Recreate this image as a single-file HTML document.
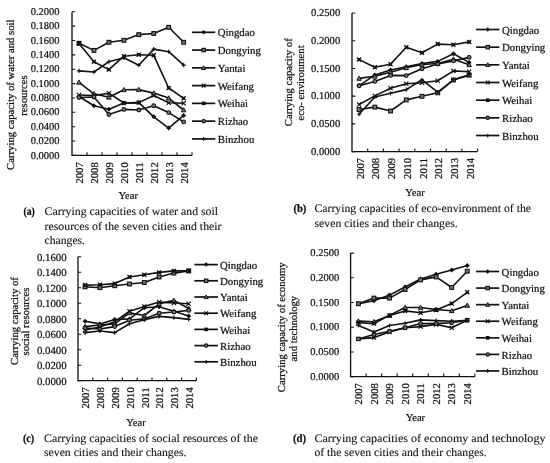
<!DOCTYPE html>
<html><head><meta charset="utf-8"><title>Carrying capacities</title>
<style>
html,body{margin:0;padding:0;background:#fff;}
svg{display:block;}
text{font-family:"Liberation Serif", "Times New Roman", serif;fill:#111;text-rendering:geometricPrecision;stroke:#111;stroke-width:0.22px;}
</style></head>
<body>
<svg width="550" height="463" viewBox="0 0 550 463">
<rect width="550" height="463" fill="#fff"/>
<path d="M72 11.8 L72 155.4 L192 155.4" stroke="#111" stroke-width="1.3" fill="none"/>
<text x="59.60" y="158.50" font-size="10.5" text-anchor="end">0.0000</text>
<text x="59.60" y="144.14" font-size="10.5" text-anchor="end">0.0200</text>
<text x="59.60" y="129.78" font-size="10.5" text-anchor="end">0.0400</text>
<text x="59.60" y="115.42" font-size="10.5" text-anchor="end">0.0600</text>
<text x="59.60" y="101.06" font-size="10.5" text-anchor="end">0.0800</text>
<text x="59.60" y="86.70" font-size="10.5" text-anchor="end">0.1000</text>
<text x="59.60" y="72.34" font-size="10.5" text-anchor="end">0.1200</text>
<text x="59.60" y="57.98" font-size="10.5" text-anchor="end">0.1400</text>
<text x="59.60" y="43.62" font-size="10.5" text-anchor="end">0.1600</text>
<text x="59.60" y="29.26" font-size="10.5" text-anchor="end">0.1800</text>
<text x="59.60" y="14.90" font-size="10.5" text-anchor="end">0.2000</text>
<path d="M72 155.40h3.2 M72 141.04h3.2 M72 126.68h3.2 M72 112.32h3.2 M72 97.96h3.2 M72 83.60h3.2 M72 69.24h3.2 M72 54.88h3.2 M72 40.52h3.2 M72 26.16h3.2 M72 11.80h3.2 M87.00 155.4v-3.2 M102.00 155.4v-3.2 M117.00 155.4v-3.2 M132.00 155.4v-3.2 M147.00 155.4v-3.2 M162.00 155.4v-3.2 M177.00 155.4v-3.2 M192.00 155.4v-3.2" stroke="#111" stroke-width="1.1" fill="none"/>
<text x="82.90" y="162.30" font-size="10.6" text-anchor="end" transform="rotate(-90 82.90 162.30)">2007</text>
<text x="97.85" y="162.30" font-size="10.6" text-anchor="end" transform="rotate(-90 97.85 162.30)">2008</text>
<text x="112.80" y="162.30" font-size="10.6" text-anchor="end" transform="rotate(-90 112.80 162.30)">2009</text>
<text x="127.75" y="162.30" font-size="10.6" text-anchor="end" transform="rotate(-90 127.75 162.30)">2010</text>
<text x="142.70" y="162.30" font-size="10.6" text-anchor="end" transform="rotate(-90 142.70 162.30)">2011</text>
<text x="157.65" y="162.30" font-size="10.6" text-anchor="end" transform="rotate(-90 157.65 162.30)">2012</text>
<text x="172.60" y="162.30" font-size="10.6" text-anchor="end" transform="rotate(-90 172.60 162.30)">2013</text>
<text x="187.55" y="162.30" font-size="10.6" text-anchor="end" transform="rotate(-90 187.55 162.30)">2014</text>
<text x="128.30" y="199.00" font-size="10.6" text-anchor="middle">Year</text>
<polyline points="79.00,96.50 93.95,105.80 108.90,109.30 123.85,103.00 138.80,102.60 153.75,116.80 168.70,128.10 183.65,115.40" stroke="#111" stroke-width="1.6" fill="none" stroke-linejoin="round"/>
<polyline points="79.00,43.30 93.95,50.40 108.90,42.30 123.85,40.30 138.80,34.60 153.75,33.50 168.70,27.30 183.65,42.30" stroke="#111" stroke-width="1.6" fill="none" stroke-linejoin="round"/>
<polyline points="79.00,82.30 93.95,93.80 108.90,97.30 123.85,89.80 138.80,89.60 153.75,93.10 168.70,98.10 183.65,110.00" stroke="#111" stroke-width="1.6" fill="none" stroke-linejoin="round"/>
<polyline points="79.00,95.00 93.95,95.50 108.90,93.20 123.85,103.00 138.80,102.60 153.75,95.50 168.70,102.80 183.65,103.20" stroke="#111" stroke-width="1.6" fill="none" stroke-linejoin="round"/>
<polyline points="79.00,43.50 93.95,61.70 108.90,69.60 123.85,56.20 138.80,54.70 153.75,55.30 168.70,88.00 183.65,98.30" stroke="#111" stroke-width="1.6" fill="none" stroke-linejoin="round"/>
<polyline points="79.00,97.50 93.95,97.00 108.90,114.50 123.85,109.40 138.80,110.00 153.75,105.70 168.70,112.60 183.65,121.90" stroke="#111" stroke-width="1.6" fill="none" stroke-linejoin="round"/>
<polyline points="79.00,70.90 93.95,72.00 108.90,61.70 123.85,57.80 138.80,65.20 153.75,49.10 168.70,51.70 183.65,65.10" stroke="#111" stroke-width="1.6" fill="none" stroke-linejoin="round"/>
<path d="M79.00 94.00L81.50 96.50L79.00 99.00L76.50 96.50Z" fill="#111"/>
<path d="M93.95 103.30L96.45 105.80L93.95 108.30L91.45 105.80Z" fill="#111"/>
<path d="M108.90 106.80L111.40 109.30L108.90 111.80L106.40 109.30Z" fill="#111"/>
<path d="M123.85 100.50L126.35 103.00L123.85 105.50L121.35 103.00Z" fill="#111"/>
<path d="M138.80 100.10L141.30 102.60L138.80 105.10L136.30 102.60Z" fill="#111"/>
<path d="M153.75 114.30L156.25 116.80L153.75 119.30L151.25 116.80Z" fill="#111"/>
<path d="M168.70 125.60L171.20 128.10L168.70 130.60L166.20 128.10Z" fill="#111"/>
<path d="M183.65 112.90L186.15 115.40L183.65 117.90L181.15 115.40Z" fill="#111"/>
<rect x="77.10" y="41.40" width="3.80" height="3.80" fill="#777" stroke="#111" stroke-width="1.1"/>
<rect x="92.05" y="48.50" width="3.80" height="3.80" fill="#777" stroke="#111" stroke-width="1.1"/>
<rect x="107.00" y="40.40" width="3.80" height="3.80" fill="#777" stroke="#111" stroke-width="1.1"/>
<rect x="121.95" y="38.40" width="3.80" height="3.80" fill="#777" stroke="#111" stroke-width="1.1"/>
<rect x="136.90" y="32.70" width="3.80" height="3.80" fill="#777" stroke="#111" stroke-width="1.1"/>
<rect x="151.85" y="31.60" width="3.80" height="3.80" fill="#777" stroke="#111" stroke-width="1.1"/>
<rect x="166.80" y="25.40" width="3.80" height="3.80" fill="#777" stroke="#111" stroke-width="1.1"/>
<rect x="181.75" y="40.40" width="3.80" height="3.80" fill="#777" stroke="#111" stroke-width="1.1"/>
<path d="M79.00 80.00L81.30 84.14L76.70 84.14Z" fill="#777" stroke="#111" stroke-width="1.0"/>
<path d="M93.95 91.50L96.25 95.64L91.65 95.64Z" fill="#777" stroke="#111" stroke-width="1.0"/>
<path d="M108.90 95.00L111.20 99.14L106.60 99.14Z" fill="#777" stroke="#111" stroke-width="1.0"/>
<path d="M123.85 87.50L126.15 91.64L121.55 91.64Z" fill="#777" stroke="#111" stroke-width="1.0"/>
<path d="M138.80 87.30L141.10 91.44L136.50 91.44Z" fill="#777" stroke="#111" stroke-width="1.0"/>
<path d="M153.75 90.80L156.05 94.94L151.45 94.94Z" fill="#777" stroke="#111" stroke-width="1.0"/>
<path d="M168.70 95.80L171.00 99.94L166.40 99.94Z" fill="#777" stroke="#111" stroke-width="1.0"/>
<path d="M183.65 107.70L185.95 111.84L181.35 111.84Z" fill="#777" stroke="#111" stroke-width="1.0"/>
<path d="M76.90 92.90L81.10 97.10M81.10 92.90L76.90 97.10" stroke="#111" stroke-width="1.2" fill="none"/>
<path d="M91.85 93.40L96.05 97.60M96.05 93.40L91.85 97.60" stroke="#111" stroke-width="1.2" fill="none"/>
<path d="M106.80 91.10L111.00 95.30M111.00 91.10L106.80 95.30" stroke="#111" stroke-width="1.2" fill="none"/>
<path d="M121.75 100.90L125.95 105.10M125.95 100.90L121.75 105.10" stroke="#111" stroke-width="1.2" fill="none"/>
<path d="M136.70 100.50L140.90 104.70M140.90 100.50L136.70 104.70" stroke="#111" stroke-width="1.2" fill="none"/>
<path d="M151.65 93.40L155.85 97.60M155.85 93.40L151.65 97.60" stroke="#111" stroke-width="1.2" fill="none"/>
<path d="M166.60 100.70L170.80 104.90M170.80 100.70L166.60 104.90" stroke="#111" stroke-width="1.2" fill="none"/>
<path d="M181.55 101.10L185.75 105.30M185.75 101.10L181.55 105.30" stroke="#111" stroke-width="1.2" fill="none"/>
<path d="M76.90 41.40L81.10 45.60M81.10 41.40L76.90 45.60" stroke="#111" stroke-width="1.2" fill="none"/><rect x="77.50" y="42.00" width="3.00" height="3.00" fill="#111"/>
<path d="M91.85 59.60L96.05 63.80M96.05 59.60L91.85 63.80" stroke="#111" stroke-width="1.2" fill="none"/><rect x="92.45" y="60.20" width="3.00" height="3.00" fill="#111"/>
<path d="M106.80 67.50L111.00 71.70M111.00 67.50L106.80 71.70" stroke="#111" stroke-width="1.2" fill="none"/><rect x="107.40" y="68.10" width="3.00" height="3.00" fill="#111"/>
<path d="M121.75 54.10L125.95 58.30M125.95 54.10L121.75 58.30" stroke="#111" stroke-width="1.2" fill="none"/><rect x="122.35" y="54.70" width="3.00" height="3.00" fill="#111"/>
<path d="M136.70 52.60L140.90 56.80M140.90 52.60L136.70 56.80" stroke="#111" stroke-width="1.2" fill="none"/><rect x="137.30" y="53.20" width="3.00" height="3.00" fill="#111"/>
<path d="M151.65 53.20L155.85 57.40M155.85 53.20L151.65 57.40" stroke="#111" stroke-width="1.2" fill="none"/><rect x="152.25" y="53.80" width="3.00" height="3.00" fill="#111"/>
<path d="M166.60 85.90L170.80 90.10M170.80 85.90L166.60 90.10" stroke="#111" stroke-width="1.2" fill="none"/><rect x="167.20" y="86.50" width="3.00" height="3.00" fill="#111"/>
<path d="M181.55 96.20L185.75 100.40M185.75 96.20L181.55 100.40" stroke="#111" stroke-width="1.2" fill="none"/><rect x="182.15" y="96.80" width="3.00" height="3.00" fill="#111"/>
<circle cx="79.00" cy="97.50" r="1.90" fill="#777" stroke="#111" stroke-width="1.1"/>
<circle cx="93.95" cy="97.00" r="1.90" fill="#777" stroke="#111" stroke-width="1.1"/>
<circle cx="108.90" cy="114.50" r="1.90" fill="#777" stroke="#111" stroke-width="1.1"/>
<circle cx="123.85" cy="109.40" r="1.90" fill="#777" stroke="#111" stroke-width="1.1"/>
<circle cx="138.80" cy="110.00" r="1.90" fill="#777" stroke="#111" stroke-width="1.1"/>
<circle cx="153.75" cy="105.70" r="1.90" fill="#777" stroke="#111" stroke-width="1.1"/>
<circle cx="168.70" cy="112.60" r="1.90" fill="#777" stroke="#111" stroke-width="1.1"/>
<circle cx="183.65" cy="121.90" r="1.90" fill="#777" stroke="#111" stroke-width="1.1"/>
<path d="M79.00 68.80L79.00 73.00M76.90 70.90L81.10 70.90" stroke="#111" stroke-width="1.1" fill="none"/>
<path d="M93.95 69.90L93.95 74.10M91.85 72.00L96.05 72.00" stroke="#111" stroke-width="1.1" fill="none"/>
<path d="M108.90 59.60L108.90 63.80M106.80 61.70L111.00 61.70" stroke="#111" stroke-width="1.1" fill="none"/>
<path d="M123.85 55.70L123.85 59.90M121.75 57.80L125.95 57.80" stroke="#111" stroke-width="1.1" fill="none"/>
<path d="M138.80 63.10L138.80 67.30M136.70 65.20L140.90 65.20" stroke="#111" stroke-width="1.1" fill="none"/>
<path d="M153.75 47.00L153.75 51.20M151.65 49.10L155.85 49.10" stroke="#111" stroke-width="1.1" fill="none"/>
<path d="M168.70 49.60L168.70 53.80M166.60 51.70L170.80 51.70" stroke="#111" stroke-width="1.1" fill="none"/>
<path d="M183.65 63.00L183.65 67.20M181.55 65.10L185.75 65.10" stroke="#111" stroke-width="1.1" fill="none"/>
<path d="M192 32.30H215.3" stroke="#111" stroke-width="1.7"/>
<path d="M203.65 30.05L205.90 32.30L203.65 34.55L201.40 32.30Z" fill="#111"/>
<text x="217.70" y="36.40" font-size="10.8" text-anchor="start">Qingdao</text>
<path d="M192 50.07H215.3" stroke="#111" stroke-width="1.7"/>
<rect x="201.94" y="48.36" width="3.42" height="3.42" fill="#777" stroke="#111" stroke-width="1.1"/>
<text x="217.70" y="54.17" font-size="10.8" text-anchor="start">Dongying</text>
<path d="M192 67.84H215.3" stroke="#111" stroke-width="1.7"/>
<path d="M203.65 65.77L205.72 69.50L201.58 69.50Z" fill="#777" stroke="#111" stroke-width="1.0"/>
<text x="217.70" y="71.94" font-size="10.8" text-anchor="start">Yantai</text>
<path d="M192 85.61H215.3" stroke="#111" stroke-width="1.7"/>
<path d="M201.76 83.72L205.54 87.50M205.54 83.72L201.76 87.50" stroke="#111" stroke-width="1.2" fill="none"/>
<text x="217.70" y="89.71" font-size="10.8" text-anchor="start">Weifang</text>
<path d="M192 103.38H215.3" stroke="#111" stroke-width="1.7"/>
<rect x="201.85" y="101.58" width="3.6" height="3.6" fill="#111"/>
<text x="217.70" y="107.48" font-size="10.8" text-anchor="start">Weihai</text>
<path d="M192 121.15H215.3" stroke="#111" stroke-width="1.7"/>
<circle cx="203.65" cy="121.15" r="1.71" fill="#777" stroke="#111" stroke-width="1.1"/>
<text x="217.70" y="125.25" font-size="10.8" text-anchor="start">Rizhao</text>
<path d="M192 138.92H215.3" stroke="#111" stroke-width="1.7"/>
<path d="M203.65 137.03L203.65 140.81M201.76 138.92L205.54 138.92" stroke="#111" stroke-width="1.1" fill="none"/>
<text x="217.70" y="143.02" font-size="10.8" text-anchor="start">Binzhou</text>
<text x="14.30" y="94.70" font-size="10.7" text-anchor="middle" transform="rotate(-90 14.30 94.70)">Carrying capacity of water and soil</text>
<text x="26.80" y="95.50" font-size="10.7" text-anchor="middle" transform="rotate(-90 26.80 95.50)">resources</text>
<path d="M352 13.0 L352 151.6 L477.6 151.6" stroke="#111" stroke-width="1.3" fill="none"/>
<text x="340.20" y="154.70" font-size="10.6" text-anchor="end">0.0000</text>
<text x="340.20" y="126.98" font-size="10.6" text-anchor="end">0.0500</text>
<text x="340.20" y="99.26" font-size="10.6" text-anchor="end">0.1000</text>
<text x="340.20" y="71.54" font-size="10.6" text-anchor="end">0.1500</text>
<text x="340.20" y="43.82" font-size="10.6" text-anchor="end">0.2000</text>
<text x="340.20" y="16.10" font-size="10.6" text-anchor="end">0.2500</text>
<path d="M352 151.60h3.2 M352 123.88h3.2 M352 96.16h3.2 M352 68.44h3.2 M352 40.72h3.2 M352 13.00h3.2 M367.70 151.6v-3.2 M383.40 151.6v-3.2 M399.10 151.6v-3.2 M414.80 151.6v-3.2 M430.50 151.6v-3.2 M446.20 151.6v-3.2 M461.90 151.6v-3.2 M477.60 151.6v-3.2" stroke="#111" stroke-width="1.1" fill="none"/>
<text x="363.70" y="157.90" font-size="10.6" text-anchor="end" transform="rotate(-90 363.70 157.90)">2007</text>
<text x="379.42" y="157.90" font-size="10.6" text-anchor="end" transform="rotate(-90 379.42 157.90)">2008</text>
<text x="395.14" y="157.90" font-size="10.6" text-anchor="end" transform="rotate(-90 395.14 157.90)">2009</text>
<text x="410.86" y="157.90" font-size="10.6" text-anchor="end" transform="rotate(-90 410.86 157.90)">2010</text>
<text x="426.58" y="157.90" font-size="10.6" text-anchor="end" transform="rotate(-90 426.58 157.90)">2011</text>
<text x="442.30" y="157.90" font-size="10.6" text-anchor="end" transform="rotate(-90 442.30 157.90)">2012</text>
<text x="458.02" y="157.90" font-size="10.6" text-anchor="end" transform="rotate(-90 458.02 157.90)">2013</text>
<text x="473.74" y="157.90" font-size="10.6" text-anchor="end" transform="rotate(-90 473.74 157.90)">2014</text>
<text x="415.00" y="195.80" font-size="10.6" text-anchor="middle">Year</text>
<polyline points="359.10,85.80 374.82,74.90 390.54,70.00 406.26,66.70 421.98,63.50 437.70,61.40 453.42,53.80 469.14,62.40" stroke="#111" stroke-width="1.6" fill="none" stroke-linejoin="round"/>
<polyline points="359.10,109.50 374.82,107.10 390.54,111.00 406.26,99.90 421.98,96.30 437.70,92.80 453.42,80.00 469.14,75.20" stroke="#111" stroke-width="1.6" fill="none" stroke-linejoin="round"/>
<polyline points="359.10,78.40 374.82,76.30 390.54,72.20 406.26,67.80 421.98,64.50 437.70,63.50 453.42,59.20 469.14,64.80" stroke="#111" stroke-width="1.6" fill="none" stroke-linejoin="round"/>
<polyline points="359.10,104.50 374.82,95.90 390.54,88.30 406.26,83.80 421.98,82.80 437.70,80.70 453.42,70.90 469.14,71.80" stroke="#111" stroke-width="1.6" fill="none" stroke-linejoin="round"/>
<polyline points="359.10,59.60 374.82,67.30 390.54,64.20 406.26,47.20 421.98,52.80 437.70,44.10 453.42,44.70 469.14,41.90" stroke="#111" stroke-width="1.6" fill="none" stroke-linejoin="round"/>
<polyline points="359.10,85.80 374.82,81.40 390.54,75.40 406.26,75.60 421.98,68.70 437.70,64.00 453.42,60.90 469.14,57.40" stroke="#111" stroke-width="1.6" fill="none" stroke-linejoin="round"/>
<polyline points="359.10,114.20 374.82,97.00 390.54,93.30 406.26,89.60 421.98,79.80 437.70,92.10 453.42,79.80 469.14,74.80" stroke="#111" stroke-width="1.6" fill="none" stroke-linejoin="round"/>
<path d="M359.10 83.30L361.60 85.80L359.10 88.30L356.60 85.80Z" fill="#111"/>
<path d="M374.82 72.40L377.32 74.90L374.82 77.40L372.32 74.90Z" fill="#111"/>
<path d="M390.54 67.50L393.04 70.00L390.54 72.50L388.04 70.00Z" fill="#111"/>
<path d="M406.26 64.20L408.76 66.70L406.26 69.20L403.76 66.70Z" fill="#111"/>
<path d="M421.98 61.00L424.48 63.50L421.98 66.00L419.48 63.50Z" fill="#111"/>
<path d="M437.70 58.90L440.20 61.40L437.70 63.90L435.20 61.40Z" fill="#111"/>
<path d="M453.42 51.30L455.92 53.80L453.42 56.30L450.92 53.80Z" fill="#111"/>
<path d="M469.14 59.90L471.64 62.40L469.14 64.90L466.64 62.40Z" fill="#111"/>
<rect x="357.20" y="107.60" width="3.80" height="3.80" fill="#777" stroke="#111" stroke-width="1.1"/>
<rect x="372.92" y="105.20" width="3.80" height="3.80" fill="#777" stroke="#111" stroke-width="1.1"/>
<rect x="388.64" y="109.10" width="3.80" height="3.80" fill="#777" stroke="#111" stroke-width="1.1"/>
<rect x="404.36" y="98.00" width="3.80" height="3.80" fill="#777" stroke="#111" stroke-width="1.1"/>
<rect x="420.08" y="94.40" width="3.80" height="3.80" fill="#777" stroke="#111" stroke-width="1.1"/>
<rect x="435.80" y="90.90" width="3.80" height="3.80" fill="#777" stroke="#111" stroke-width="1.1"/>
<rect x="451.52" y="78.10" width="3.80" height="3.80" fill="#777" stroke="#111" stroke-width="1.1"/>
<rect x="467.24" y="73.30" width="3.80" height="3.80" fill="#777" stroke="#111" stroke-width="1.1"/>
<path d="M359.10 76.10L361.40 80.24L356.80 80.24Z" fill="#777" stroke="#111" stroke-width="1.0"/>
<path d="M374.82 74.00L377.12 78.14L372.52 78.14Z" fill="#777" stroke="#111" stroke-width="1.0"/>
<path d="M390.54 69.90L392.84 74.04L388.24 74.04Z" fill="#777" stroke="#111" stroke-width="1.0"/>
<path d="M406.26 65.50L408.56 69.64L403.96 69.64Z" fill="#777" stroke="#111" stroke-width="1.0"/>
<path d="M421.98 62.20L424.28 66.34L419.68 66.34Z" fill="#777" stroke="#111" stroke-width="1.0"/>
<path d="M437.70 61.20L440.00 65.34L435.40 65.34Z" fill="#777" stroke="#111" stroke-width="1.0"/>
<path d="M453.42 56.90L455.72 61.04L451.12 61.04Z" fill="#777" stroke="#111" stroke-width="1.0"/>
<path d="M469.14 62.50L471.44 66.64L466.84 66.64Z" fill="#777" stroke="#111" stroke-width="1.0"/>
<path d="M357.00 102.40L361.20 106.60M361.20 102.40L357.00 106.60" stroke="#111" stroke-width="1.2" fill="none"/>
<path d="M372.72 93.80L376.92 98.00M376.92 93.80L372.72 98.00" stroke="#111" stroke-width="1.2" fill="none"/>
<path d="M388.44 86.20L392.64 90.40M392.64 86.20L388.44 90.40" stroke="#111" stroke-width="1.2" fill="none"/>
<path d="M404.16 81.70L408.36 85.90M408.36 81.70L404.16 85.90" stroke="#111" stroke-width="1.2" fill="none"/>
<path d="M419.88 80.70L424.08 84.90M424.08 80.70L419.88 84.90" stroke="#111" stroke-width="1.2" fill="none"/>
<path d="M435.60 78.60L439.80 82.80M439.80 78.60L435.60 82.80" stroke="#111" stroke-width="1.2" fill="none"/>
<path d="M451.32 68.80L455.52 73.00M455.52 68.80L451.32 73.00" stroke="#111" stroke-width="1.2" fill="none"/>
<path d="M467.04 69.70L471.24 73.90M471.24 69.70L467.04 73.90" stroke="#111" stroke-width="1.2" fill="none"/>
<path d="M357.00 57.50L361.20 61.70M361.20 57.50L357.00 61.70" stroke="#111" stroke-width="1.2" fill="none"/><rect x="357.60" y="58.10" width="3.00" height="3.00" fill="#111"/>
<path d="M372.72 65.20L376.92 69.40M376.92 65.20L372.72 69.40" stroke="#111" stroke-width="1.2" fill="none"/><rect x="373.32" y="65.80" width="3.00" height="3.00" fill="#111"/>
<path d="M388.44 62.10L392.64 66.30M392.64 62.10L388.44 66.30" stroke="#111" stroke-width="1.2" fill="none"/><rect x="389.04" y="62.70" width="3.00" height="3.00" fill="#111"/>
<path d="M404.16 45.10L408.36 49.30M408.36 45.10L404.16 49.30" stroke="#111" stroke-width="1.2" fill="none"/><rect x="404.76" y="45.70" width="3.00" height="3.00" fill="#111"/>
<path d="M419.88 50.70L424.08 54.90M424.08 50.70L419.88 54.90" stroke="#111" stroke-width="1.2" fill="none"/><rect x="420.48" y="51.30" width="3.00" height="3.00" fill="#111"/>
<path d="M435.60 42.00L439.80 46.20M439.80 42.00L435.60 46.20" stroke="#111" stroke-width="1.2" fill="none"/><rect x="436.20" y="42.60" width="3.00" height="3.00" fill="#111"/>
<path d="M451.32 42.60L455.52 46.80M455.52 42.60L451.32 46.80" stroke="#111" stroke-width="1.2" fill="none"/><rect x="451.92" y="43.20" width="3.00" height="3.00" fill="#111"/>
<path d="M467.04 39.80L471.24 44.00M471.24 39.80L467.04 44.00" stroke="#111" stroke-width="1.2" fill="none"/><rect x="467.64" y="40.40" width="3.00" height="3.00" fill="#111"/>
<circle cx="359.10" cy="85.80" r="1.90" fill="#777" stroke="#111" stroke-width="1.1"/>
<circle cx="374.82" cy="81.40" r="1.90" fill="#777" stroke="#111" stroke-width="1.1"/>
<circle cx="390.54" cy="75.40" r="1.90" fill="#777" stroke="#111" stroke-width="1.1"/>
<circle cx="406.26" cy="75.60" r="1.90" fill="#777" stroke="#111" stroke-width="1.1"/>
<circle cx="421.98" cy="68.70" r="1.90" fill="#777" stroke="#111" stroke-width="1.1"/>
<circle cx="437.70" cy="64.00" r="1.90" fill="#777" stroke="#111" stroke-width="1.1"/>
<circle cx="453.42" cy="60.90" r="1.90" fill="#777" stroke="#111" stroke-width="1.1"/>
<circle cx="469.14" cy="57.40" r="1.90" fill="#777" stroke="#111" stroke-width="1.1"/>
<path d="M359.10 112.10L359.10 116.30M357.00 114.20L361.20 114.20" stroke="#111" stroke-width="1.1" fill="none"/>
<path d="M374.82 94.90L374.82 99.10M372.72 97.00L376.92 97.00" stroke="#111" stroke-width="1.1" fill="none"/>
<path d="M390.54 91.20L390.54 95.40M388.44 93.30L392.64 93.30" stroke="#111" stroke-width="1.1" fill="none"/>
<path d="M406.26 87.50L406.26 91.70M404.16 89.60L408.36 89.60" stroke="#111" stroke-width="1.1" fill="none"/>
<path d="M421.98 77.70L421.98 81.90M419.88 79.80L424.08 79.80" stroke="#111" stroke-width="1.1" fill="none"/>
<path d="M437.70 90.00L437.70 94.20M435.60 92.10L439.80 92.10" stroke="#111" stroke-width="1.1" fill="none"/>
<path d="M453.42 77.70L453.42 81.90M451.32 79.80L455.52 79.80" stroke="#111" stroke-width="1.1" fill="none"/>
<path d="M469.14 72.70L469.14 76.90M467.04 74.80L471.24 74.80" stroke="#111" stroke-width="1.1" fill="none"/>
<path d="M476.1 29.50H499.4" stroke="#111" stroke-width="1.7"/>
<path d="M487.75 27.25L490.00 29.50L487.75 31.75L485.50 29.50Z" fill="#111"/>
<text x="502.00" y="33.60" font-size="10.8" text-anchor="start">Qingdao</text>
<path d="M476.1 47.17H499.4" stroke="#111" stroke-width="1.7"/>
<rect x="486.04" y="45.46" width="3.42" height="3.42" fill="#777" stroke="#111" stroke-width="1.1"/>
<text x="502.00" y="51.27" font-size="10.8" text-anchor="start">Dongying</text>
<path d="M476.1 64.84H499.4" stroke="#111" stroke-width="1.7"/>
<path d="M487.75 62.77L489.82 66.50L485.68 66.50Z" fill="#777" stroke="#111" stroke-width="1.0"/>
<text x="502.00" y="68.94" font-size="10.8" text-anchor="start">Yantai</text>
<path d="M476.1 82.51H499.4" stroke="#111" stroke-width="1.7"/>
<path d="M485.86 80.62L489.64 84.40M489.64 80.62L485.86 84.40" stroke="#111" stroke-width="1.2" fill="none"/>
<text x="502.00" y="86.61" font-size="10.8" text-anchor="start">Weifang</text>
<path d="M476.1 100.18H499.4" stroke="#111" stroke-width="1.7"/>
<rect x="485.95" y="98.38" width="3.6" height="3.6" fill="#111"/>
<text x="502.00" y="104.28" font-size="10.8" text-anchor="start">Weihai</text>
<path d="M476.1 117.85H499.4" stroke="#111" stroke-width="1.7"/>
<circle cx="487.75" cy="117.85" r="1.71" fill="#777" stroke="#111" stroke-width="1.1"/>
<text x="502.00" y="121.95" font-size="10.8" text-anchor="start">Rizhao</text>
<path d="M476.1 135.52H499.4" stroke="#111" stroke-width="1.7"/>
<path d="M487.75 133.63L487.75 137.41M485.86 135.52L489.64 135.52" stroke="#111" stroke-width="1.1" fill="none"/>
<text x="502.00" y="139.62" font-size="10.8" text-anchor="start">Binzhou</text>
<text x="292.20" y="82.20" font-size="10.7" text-anchor="middle" transform="rotate(-90 292.20 82.20)">Carrying capacity of</text>
<text x="304.20" y="82.90" font-size="10.7" text-anchor="middle" transform="rotate(-90 304.20 82.90)">eco- environment</text>
<path d="M78 256.7 L78 380.7 L196.4 380.7" stroke="#111" stroke-width="1.3" fill="none"/>
<text x="66.60" y="384.50" font-size="10.8" text-anchor="end">0.0000</text>
<text x="66.60" y="369.00" font-size="10.8" text-anchor="end">0.0200</text>
<text x="66.60" y="353.50" font-size="10.8" text-anchor="end">0.0400</text>
<text x="66.60" y="338.00" font-size="10.8" text-anchor="end">0.0600</text>
<text x="66.60" y="322.50" font-size="10.8" text-anchor="end">0.0800</text>
<text x="66.60" y="307.00" font-size="10.8" text-anchor="end">0.1000</text>
<text x="66.60" y="291.50" font-size="10.8" text-anchor="end">0.1200</text>
<text x="66.60" y="276.00" font-size="10.8" text-anchor="end">0.1400</text>
<text x="66.60" y="260.50" font-size="10.8" text-anchor="end">0.1600</text>
<path d="M78 380.70h3.2 M78 365.20h3.2 M78 349.70h3.2 M78 334.20h3.2 M78 318.70h3.2 M78 303.20h3.2 M78 287.70h3.2 M78 272.20h3.2 M78 256.70h3.2 M92.80 380.7v-3.2 M107.60 380.7v-3.2 M122.40 380.7v-3.2 M137.20 380.7v-3.2 M152.00 380.7v-3.2 M166.80 380.7v-3.2 M181.60 380.7v-3.2 M196.40 380.7v-3.2" stroke="#111" stroke-width="1.1" fill="none"/>
<text x="89.40" y="387.30" font-size="10.6" text-anchor="end" transform="rotate(-90 89.40 387.30)">2007</text>
<text x="104.20" y="387.30" font-size="10.6" text-anchor="end" transform="rotate(-90 104.20 387.30)">2008</text>
<text x="119.00" y="387.30" font-size="10.6" text-anchor="end" transform="rotate(-90 119.00 387.30)">2009</text>
<text x="133.80" y="387.30" font-size="10.6" text-anchor="end" transform="rotate(-90 133.80 387.30)">2010</text>
<text x="148.60" y="387.30" font-size="10.6" text-anchor="end" transform="rotate(-90 148.60 387.30)">2011</text>
<text x="163.40" y="387.30" font-size="10.6" text-anchor="end" transform="rotate(-90 163.40 387.30)">2012</text>
<text x="178.20" y="387.30" font-size="10.6" text-anchor="end" transform="rotate(-90 178.20 387.30)">2013</text>
<text x="193.00" y="387.30" font-size="10.6" text-anchor="end" transform="rotate(-90 193.00 387.30)">2014</text>
<text x="136.00" y="425.50" font-size="10.6" text-anchor="middle">Year</text>
<polyline points="85.10,321.20 99.90,323.90 114.70,319.50 129.50,318.90 144.30,307.70 159.10,306.80 173.90,311.20 188.70,315.90" stroke="#111" stroke-width="1.6" fill="none" stroke-linejoin="round"/>
<polyline points="85.10,286.80 99.90,287.70 114.70,285.70 129.50,284.00 144.30,282.50 159.10,277.00 173.90,273.10 188.70,270.90" stroke="#111" stroke-width="1.6" fill="none" stroke-linejoin="round"/>
<polyline points="85.10,326.60 99.90,325.00 114.70,323.90 129.50,312.90 144.30,315.50 159.10,303.80 173.90,300.40 188.70,308.50" stroke="#111" stroke-width="1.6" fill="none" stroke-linejoin="round"/>
<polyline points="85.10,330.00 99.90,327.00 114.70,321.70 129.50,311.20 144.30,306.40 159.10,302.10 173.90,303.00 188.70,303.80" stroke="#111" stroke-width="1.6" fill="none" stroke-linejoin="round"/>
<polyline points="85.10,285.10 99.90,284.70 114.70,283.60 129.50,277.00 144.30,274.80 159.10,272.40 173.90,270.90 188.70,270.90" stroke="#111" stroke-width="1.6" fill="none" stroke-linejoin="round"/>
<polyline points="85.10,328.00 99.90,329.00 114.70,326.60 129.50,320.20 144.30,318.90 159.10,313.30 173.90,312.00 188.70,310.40" stroke="#111" stroke-width="1.6" fill="none" stroke-linejoin="round"/>
<polyline points="85.10,332.60 99.90,331.00 114.70,332.60 129.50,323.70 144.30,319.80 159.10,316.40 173.90,317.60 188.70,319.40" stroke="#111" stroke-width="1.6" fill="none" stroke-linejoin="round"/>
<path d="M85.10 318.70L87.60 321.20L85.10 323.70L82.60 321.20Z" fill="#111"/>
<path d="M99.90 321.40L102.40 323.90L99.90 326.40L97.40 323.90Z" fill="#111"/>
<path d="M114.70 317.00L117.20 319.50L114.70 322.00L112.20 319.50Z" fill="#111"/>
<path d="M129.50 316.40L132.00 318.90L129.50 321.40L127.00 318.90Z" fill="#111"/>
<path d="M144.30 305.20L146.80 307.70L144.30 310.20L141.80 307.70Z" fill="#111"/>
<path d="M159.10 304.30L161.60 306.80L159.10 309.30L156.60 306.80Z" fill="#111"/>
<path d="M173.90 308.70L176.40 311.20L173.90 313.70L171.40 311.20Z" fill="#111"/>
<path d="M188.70 313.40L191.20 315.90L188.70 318.40L186.20 315.90Z" fill="#111"/>
<rect x="83.20" y="284.90" width="3.80" height="3.80" fill="#777" stroke="#111" stroke-width="1.1"/>
<rect x="98.00" y="285.80" width="3.80" height="3.80" fill="#777" stroke="#111" stroke-width="1.1"/>
<rect x="112.80" y="283.80" width="3.80" height="3.80" fill="#777" stroke="#111" stroke-width="1.1"/>
<rect x="127.60" y="282.10" width="3.80" height="3.80" fill="#777" stroke="#111" stroke-width="1.1"/>
<rect x="142.40" y="280.60" width="3.80" height="3.80" fill="#777" stroke="#111" stroke-width="1.1"/>
<rect x="157.20" y="275.10" width="3.80" height="3.80" fill="#777" stroke="#111" stroke-width="1.1"/>
<rect x="172.00" y="271.20" width="3.80" height="3.80" fill="#777" stroke="#111" stroke-width="1.1"/>
<rect x="186.80" y="269.00" width="3.80" height="3.80" fill="#777" stroke="#111" stroke-width="1.1"/>
<path d="M85.10 324.30L87.40 328.44L82.80 328.44Z" fill="#777" stroke="#111" stroke-width="1.0"/>
<path d="M99.90 322.70L102.20 326.84L97.60 326.84Z" fill="#777" stroke="#111" stroke-width="1.0"/>
<path d="M114.70 321.60L117.00 325.74L112.40 325.74Z" fill="#777" stroke="#111" stroke-width="1.0"/>
<path d="M129.50 310.60L131.80 314.74L127.20 314.74Z" fill="#777" stroke="#111" stroke-width="1.0"/>
<path d="M144.30 313.20L146.60 317.34L142.00 317.34Z" fill="#777" stroke="#111" stroke-width="1.0"/>
<path d="M159.10 301.50L161.40 305.64L156.80 305.64Z" fill="#777" stroke="#111" stroke-width="1.0"/>
<path d="M173.90 298.10L176.20 302.24L171.60 302.24Z" fill="#777" stroke="#111" stroke-width="1.0"/>
<path d="M188.70 306.20L191.00 310.34L186.40 310.34Z" fill="#777" stroke="#111" stroke-width="1.0"/>
<path d="M83.00 327.90L87.20 332.10M87.20 327.90L83.00 332.10" stroke="#111" stroke-width="1.2" fill="none"/>
<path d="M97.80 324.90L102.00 329.10M102.00 324.90L97.80 329.10" stroke="#111" stroke-width="1.2" fill="none"/>
<path d="M112.60 319.60L116.80 323.80M116.80 319.60L112.60 323.80" stroke="#111" stroke-width="1.2" fill="none"/>
<path d="M127.40 309.10L131.60 313.30M131.60 309.10L127.40 313.30" stroke="#111" stroke-width="1.2" fill="none"/>
<path d="M142.20 304.30L146.40 308.50M146.40 304.30L142.20 308.50" stroke="#111" stroke-width="1.2" fill="none"/>
<path d="M157.00 300.00L161.20 304.20M161.20 300.00L157.00 304.20" stroke="#111" stroke-width="1.2" fill="none"/>
<path d="M171.80 300.90L176.00 305.10M176.00 300.90L171.80 305.10" stroke="#111" stroke-width="1.2" fill="none"/>
<path d="M186.60 301.70L190.80 305.90M190.80 301.70L186.60 305.90" stroke="#111" stroke-width="1.2" fill="none"/>
<path d="M83.00 283.00L87.20 287.20M87.20 283.00L83.00 287.20" stroke="#111" stroke-width="1.2" fill="none"/><rect x="83.60" y="283.60" width="3.00" height="3.00" fill="#111"/>
<path d="M97.80 282.60L102.00 286.80M102.00 282.60L97.80 286.80" stroke="#111" stroke-width="1.2" fill="none"/><rect x="98.40" y="283.20" width="3.00" height="3.00" fill="#111"/>
<path d="M112.60 281.50L116.80 285.70M116.80 281.50L112.60 285.70" stroke="#111" stroke-width="1.2" fill="none"/><rect x="113.20" y="282.10" width="3.00" height="3.00" fill="#111"/>
<path d="M127.40 274.90L131.60 279.10M131.60 274.90L127.40 279.10" stroke="#111" stroke-width="1.2" fill="none"/><rect x="128.00" y="275.50" width="3.00" height="3.00" fill="#111"/>
<path d="M142.20 272.70L146.40 276.90M146.40 272.70L142.20 276.90" stroke="#111" stroke-width="1.2" fill="none"/><rect x="142.80" y="273.30" width="3.00" height="3.00" fill="#111"/>
<path d="M157.00 270.30L161.20 274.50M161.20 270.30L157.00 274.50" stroke="#111" stroke-width="1.2" fill="none"/><rect x="157.60" y="270.90" width="3.00" height="3.00" fill="#111"/>
<path d="M171.80 268.80L176.00 273.00M176.00 268.80L171.80 273.00" stroke="#111" stroke-width="1.2" fill="none"/><rect x="172.40" y="269.40" width="3.00" height="3.00" fill="#111"/>
<path d="M186.60 268.80L190.80 273.00M190.80 268.80L186.60 273.00" stroke="#111" stroke-width="1.2" fill="none"/><rect x="187.20" y="269.40" width="3.00" height="3.00" fill="#111"/>
<circle cx="85.10" cy="328.00" r="1.90" fill="#777" stroke="#111" stroke-width="1.1"/>
<circle cx="99.90" cy="329.00" r="1.90" fill="#777" stroke="#111" stroke-width="1.1"/>
<circle cx="114.70" cy="326.60" r="1.90" fill="#777" stroke="#111" stroke-width="1.1"/>
<circle cx="129.50" cy="320.20" r="1.90" fill="#777" stroke="#111" stroke-width="1.1"/>
<circle cx="144.30" cy="318.90" r="1.90" fill="#777" stroke="#111" stroke-width="1.1"/>
<circle cx="159.10" cy="313.30" r="1.90" fill="#777" stroke="#111" stroke-width="1.1"/>
<circle cx="173.90" cy="312.00" r="1.90" fill="#777" stroke="#111" stroke-width="1.1"/>
<circle cx="188.70" cy="310.40" r="1.90" fill="#777" stroke="#111" stroke-width="1.1"/>
<path d="M85.10 330.50L85.10 334.70M83.00 332.60L87.20 332.60" stroke="#111" stroke-width="1.1" fill="none"/>
<path d="M99.90 328.90L99.90 333.10M97.80 331.00L102.00 331.00" stroke="#111" stroke-width="1.1" fill="none"/>
<path d="M114.70 330.50L114.70 334.70M112.60 332.60L116.80 332.60" stroke="#111" stroke-width="1.1" fill="none"/>
<path d="M129.50 321.60L129.50 325.80M127.40 323.70L131.60 323.70" stroke="#111" stroke-width="1.1" fill="none"/>
<path d="M144.30 317.70L144.30 321.90M142.20 319.80L146.40 319.80" stroke="#111" stroke-width="1.1" fill="none"/>
<path d="M159.10 314.30L159.10 318.50M157.00 316.40L161.20 316.40" stroke="#111" stroke-width="1.1" fill="none"/>
<path d="M173.90 315.50L173.90 319.70M171.80 317.60L176.00 317.60" stroke="#111" stroke-width="1.1" fill="none"/>
<path d="M188.70 317.30L188.70 321.50M186.60 319.40L190.80 319.40" stroke="#111" stroke-width="1.1" fill="none"/>
<path d="M194.4 264.60H217.9" stroke="#111" stroke-width="1.7"/>
<path d="M206.15 262.35L208.40 264.60L206.15 266.85L203.90 264.60Z" fill="#111"/>
<text x="220.00" y="268.70" font-size="10.8" text-anchor="start">Qingdao</text>
<path d="M194.4 280.80H217.9" stroke="#111" stroke-width="1.7"/>
<rect x="204.44" y="279.09" width="3.42" height="3.42" fill="#777" stroke="#111" stroke-width="1.1"/>
<text x="220.00" y="284.90" font-size="10.8" text-anchor="start">Dongying</text>
<path d="M194.4 297.00H217.9" stroke="#111" stroke-width="1.7"/>
<path d="M206.15 294.93L208.22 298.66L204.08 298.66Z" fill="#777" stroke="#111" stroke-width="1.0"/>
<text x="220.00" y="301.10" font-size="10.8" text-anchor="start">Yantai</text>
<path d="M194.4 313.20H217.9" stroke="#111" stroke-width="1.7"/>
<path d="M204.26 311.31L208.04 315.09M208.04 311.31L204.26 315.09" stroke="#111" stroke-width="1.2" fill="none"/>
<text x="220.00" y="317.30" font-size="10.8" text-anchor="start">Weifang</text>
<path d="M194.4 329.40H217.9" stroke="#111" stroke-width="1.7"/>
<rect x="204.35" y="327.60" width="3.6" height="3.6" fill="#111"/>
<text x="220.00" y="333.50" font-size="10.8" text-anchor="start">Weihai</text>
<path d="M194.4 345.60H217.9" stroke="#111" stroke-width="1.7"/>
<circle cx="206.15" cy="345.60" r="1.71" fill="#777" stroke="#111" stroke-width="1.1"/>
<text x="220.00" y="349.70" font-size="10.8" text-anchor="start">Rizhao</text>
<path d="M194.4 361.80H217.9" stroke="#111" stroke-width="1.7"/>
<path d="M206.15 359.91L206.15 363.69M204.26 361.80L208.04 361.80" stroke="#111" stroke-width="1.1" fill="none"/>
<text x="220.00" y="365.90" font-size="10.8" text-anchor="start">Binzhou</text>
<text x="18.20" y="321.00" font-size="10.7" text-anchor="middle" transform="rotate(-90 18.20 321.00)">Carrying capacity of</text>
<text x="29.40" y="321.50" font-size="10.7" text-anchor="middle" transform="rotate(-90 29.40 321.50)">social resources</text>
<path d="M350.6 253.1 L350.6 376.7 L474.8 376.7" stroke="#111" stroke-width="1.3" fill="none"/>
<text x="339.20" y="379.80" font-size="10.5" text-anchor="end">0.0000</text>
<text x="339.20" y="355.08" font-size="10.5" text-anchor="end">0.0500</text>
<text x="339.20" y="330.36" font-size="10.5" text-anchor="end">0.1000</text>
<text x="339.20" y="305.64" font-size="10.5" text-anchor="end">0.1500</text>
<text x="339.20" y="280.92" font-size="10.5" text-anchor="end">0.2000</text>
<text x="339.20" y="256.20" font-size="10.5" text-anchor="end">0.2500</text>
<path d="M350.6 376.70h3.2 M350.6 351.98h3.2 M350.6 327.26h3.2 M350.6 302.54h3.2 M350.6 277.82h3.2 M350.6 253.10h3.2 M366.12 376.7v-3.2 M381.65 376.7v-3.2 M397.18 376.7v-3.2 M412.70 376.7v-3.2 M428.23 376.7v-3.2 M443.75 376.7v-3.2 M459.27 376.7v-3.2 M474.80 376.7v-3.2" stroke="#111" stroke-width="1.1" fill="none"/>
<text x="362.00" y="383.20" font-size="10.6" text-anchor="end" transform="rotate(-90 362.00 383.20)">2007</text>
<text x="377.55" y="383.20" font-size="10.6" text-anchor="end" transform="rotate(-90 377.55 383.20)">2008</text>
<text x="393.10" y="383.20" font-size="10.6" text-anchor="end" transform="rotate(-90 393.10 383.20)">2009</text>
<text x="408.65" y="383.20" font-size="10.6" text-anchor="end" transform="rotate(-90 408.65 383.20)">2010</text>
<text x="424.20" y="383.20" font-size="10.6" text-anchor="end" transform="rotate(-90 424.20 383.20)">2011</text>
<text x="439.75" y="383.20" font-size="10.6" text-anchor="end" transform="rotate(-90 439.75 383.20)">2012</text>
<text x="455.30" y="383.20" font-size="10.6" text-anchor="end" transform="rotate(-90 455.30 383.20)">2013</text>
<text x="470.85" y="383.20" font-size="10.6" text-anchor="end" transform="rotate(-90 470.85 383.20)">2014</text>
<text x="415.40" y="421.00" font-size="10.6" text-anchor="middle">Year</text>
<polyline points="358.40,303.70 373.95,300.70 389.50,295.10 405.05,287.00 420.60,279.00 436.15,274.20 451.70,270.10 467.25,265.60" stroke="#111" stroke-width="1.6" fill="none" stroke-linejoin="round"/>
<polyline points="358.40,303.70 373.95,298.10 389.50,298.10 405.05,289.50 420.60,279.90 436.15,276.90 451.70,287.50 467.25,271.20" stroke="#111" stroke-width="1.6" fill="none" stroke-linejoin="round"/>
<polyline points="358.40,321.10 373.95,321.70 389.50,315.40 405.05,307.50 420.60,307.50 436.15,309.50 451.70,310.80 467.25,305.40" stroke="#111" stroke-width="1.6" fill="none" stroke-linejoin="round"/>
<polyline points="358.40,338.90 373.95,337.60 389.50,331.90 405.05,327.80 420.60,326.60 436.15,324.40 451.70,327.70 467.25,320.30" stroke="#111" stroke-width="1.6" fill="none" stroke-linejoin="round"/>
<polyline points="358.40,322.70 373.95,323.60 389.50,315.40 405.05,310.90 420.60,312.80 436.15,310.00 451.70,303.60 467.25,292.30" stroke="#111" stroke-width="1.6" fill="none" stroke-linejoin="round"/>
<polyline points="358.40,338.90 373.95,334.50 389.50,331.30 405.05,327.80 420.60,323.60 436.15,323.60 451.70,322.80 467.25,320.30" stroke="#111" stroke-width="1.6" fill="none" stroke-linejoin="round"/>
<polyline points="358.40,325.50 373.95,331.90 389.50,325.50 405.05,323.30 420.60,319.90 436.15,320.60 451.70,321.20 467.25,320.30" stroke="#111" stroke-width="1.6" fill="none" stroke-linejoin="round"/>
<path d="M358.40 301.20L360.90 303.70L358.40 306.20L355.90 303.70Z" fill="#111"/>
<path d="M373.95 298.20L376.45 300.70L373.95 303.20L371.45 300.70Z" fill="#111"/>
<path d="M389.50 292.60L392.00 295.10L389.50 297.60L387.00 295.10Z" fill="#111"/>
<path d="M405.05 284.50L407.55 287.00L405.05 289.50L402.55 287.00Z" fill="#111"/>
<path d="M420.60 276.50L423.10 279.00L420.60 281.50L418.10 279.00Z" fill="#111"/>
<path d="M436.15 271.70L438.65 274.20L436.15 276.70L433.65 274.20Z" fill="#111"/>
<path d="M451.70 267.60L454.20 270.10L451.70 272.60L449.20 270.10Z" fill="#111"/>
<path d="M467.25 263.10L469.75 265.60L467.25 268.10L464.75 265.60Z" fill="#111"/>
<rect x="356.50" y="301.80" width="3.80" height="3.80" fill="#777" stroke="#111" stroke-width="1.1"/>
<rect x="372.05" y="296.20" width="3.80" height="3.80" fill="#777" stroke="#111" stroke-width="1.1"/>
<rect x="387.60" y="296.20" width="3.80" height="3.80" fill="#777" stroke="#111" stroke-width="1.1"/>
<rect x="403.15" y="287.60" width="3.80" height="3.80" fill="#777" stroke="#111" stroke-width="1.1"/>
<rect x="418.70" y="278.00" width="3.80" height="3.80" fill="#777" stroke="#111" stroke-width="1.1"/>
<rect x="434.25" y="275.00" width="3.80" height="3.80" fill="#777" stroke="#111" stroke-width="1.1"/>
<rect x="449.80" y="285.60" width="3.80" height="3.80" fill="#777" stroke="#111" stroke-width="1.1"/>
<rect x="465.35" y="269.30" width="3.80" height="3.80" fill="#777" stroke="#111" stroke-width="1.1"/>
<path d="M358.40 318.80L360.70 322.94L356.10 322.94Z" fill="#777" stroke="#111" stroke-width="1.0"/>
<path d="M373.95 319.40L376.25 323.54L371.65 323.54Z" fill="#777" stroke="#111" stroke-width="1.0"/>
<path d="M389.50 313.10L391.80 317.24L387.20 317.24Z" fill="#777" stroke="#111" stroke-width="1.0"/>
<path d="M405.05 305.20L407.35 309.34L402.75 309.34Z" fill="#777" stroke="#111" stroke-width="1.0"/>
<path d="M420.60 305.20L422.90 309.34L418.30 309.34Z" fill="#777" stroke="#111" stroke-width="1.0"/>
<path d="M436.15 307.20L438.45 311.34L433.85 311.34Z" fill="#777" stroke="#111" stroke-width="1.0"/>
<path d="M451.70 308.50L454.00 312.64L449.40 312.64Z" fill="#777" stroke="#111" stroke-width="1.0"/>
<path d="M467.25 303.10L469.55 307.24L464.95 307.24Z" fill="#777" stroke="#111" stroke-width="1.0"/>
<path d="M356.30 336.80L360.50 341.00M360.50 336.80L356.30 341.00" stroke="#111" stroke-width="1.2" fill="none"/>
<path d="M371.85 335.50L376.05 339.70M376.05 335.50L371.85 339.70" stroke="#111" stroke-width="1.2" fill="none"/>
<path d="M387.40 329.80L391.60 334.00M391.60 329.80L387.40 334.00" stroke="#111" stroke-width="1.2" fill="none"/>
<path d="M402.95 325.70L407.15 329.90M407.15 325.70L402.95 329.90" stroke="#111" stroke-width="1.2" fill="none"/>
<path d="M418.50 324.50L422.70 328.70M422.70 324.50L418.50 328.70" stroke="#111" stroke-width="1.2" fill="none"/>
<path d="M434.05 322.30L438.25 326.50M438.25 322.30L434.05 326.50" stroke="#111" stroke-width="1.2" fill="none"/>
<path d="M449.60 325.60L453.80 329.80M453.80 325.60L449.60 329.80" stroke="#111" stroke-width="1.2" fill="none"/>
<path d="M465.15 318.20L469.35 322.40M469.35 318.20L465.15 322.40" stroke="#111" stroke-width="1.2" fill="none"/>
<path d="M356.30 320.60L360.50 324.80M360.50 320.60L356.30 324.80" stroke="#111" stroke-width="1.2" fill="none"/><rect x="356.90" y="321.20" width="3.00" height="3.00" fill="#111"/>
<path d="M371.85 321.50L376.05 325.70M376.05 321.50L371.85 325.70" stroke="#111" stroke-width="1.2" fill="none"/><rect x="372.45" y="322.10" width="3.00" height="3.00" fill="#111"/>
<path d="M387.40 313.30L391.60 317.50M391.60 313.30L387.40 317.50" stroke="#111" stroke-width="1.2" fill="none"/><rect x="388.00" y="313.90" width="3.00" height="3.00" fill="#111"/>
<path d="M402.95 308.80L407.15 313.00M407.15 308.80L402.95 313.00" stroke="#111" stroke-width="1.2" fill="none"/><rect x="403.55" y="309.40" width="3.00" height="3.00" fill="#111"/>
<path d="M418.50 310.70L422.70 314.90M422.70 310.70L418.50 314.90" stroke="#111" stroke-width="1.2" fill="none"/><rect x="419.10" y="311.30" width="3.00" height="3.00" fill="#111"/>
<path d="M434.05 307.90L438.25 312.10M438.25 307.90L434.05 312.10" stroke="#111" stroke-width="1.2" fill="none"/><rect x="434.65" y="308.50" width="3.00" height="3.00" fill="#111"/>
<path d="M449.60 301.50L453.80 305.70M453.80 301.50L449.60 305.70" stroke="#111" stroke-width="1.2" fill="none"/><rect x="450.20" y="302.10" width="3.00" height="3.00" fill="#111"/>
<path d="M465.15 290.20L469.35 294.40M469.35 290.20L465.15 294.40" stroke="#111" stroke-width="1.2" fill="none"/><rect x="465.75" y="290.80" width="3.00" height="3.00" fill="#111"/>
<circle cx="358.40" cy="338.90" r="1.90" fill="#777" stroke="#111" stroke-width="1.1"/>
<circle cx="373.95" cy="334.50" r="1.90" fill="#777" stroke="#111" stroke-width="1.1"/>
<circle cx="389.50" cy="331.30" r="1.90" fill="#777" stroke="#111" stroke-width="1.1"/>
<circle cx="405.05" cy="327.80" r="1.90" fill="#777" stroke="#111" stroke-width="1.1"/>
<circle cx="420.60" cy="323.60" r="1.90" fill="#777" stroke="#111" stroke-width="1.1"/>
<circle cx="436.15" cy="323.60" r="1.90" fill="#777" stroke="#111" stroke-width="1.1"/>
<circle cx="451.70" cy="322.80" r="1.90" fill="#777" stroke="#111" stroke-width="1.1"/>
<circle cx="467.25" cy="320.30" r="1.90" fill="#777" stroke="#111" stroke-width="1.1"/>
<path d="M358.40 323.40L358.40 327.60M356.30 325.50L360.50 325.50" stroke="#111" stroke-width="1.1" fill="none"/>
<path d="M373.95 329.80L373.95 334.00M371.85 331.90L376.05 331.90" stroke="#111" stroke-width="1.1" fill="none"/>
<path d="M389.50 323.40L389.50 327.60M387.40 325.50L391.60 325.50" stroke="#111" stroke-width="1.1" fill="none"/>
<path d="M405.05 321.20L405.05 325.40M402.95 323.30L407.15 323.30" stroke="#111" stroke-width="1.1" fill="none"/>
<path d="M420.60 317.80L420.60 322.00M418.50 319.90L422.70 319.90" stroke="#111" stroke-width="1.1" fill="none"/>
<path d="M436.15 318.50L436.15 322.70M434.05 320.60L438.25 320.60" stroke="#111" stroke-width="1.1" fill="none"/>
<path d="M451.70 319.10L451.70 323.30M449.60 321.20L453.80 321.20" stroke="#111" stroke-width="1.1" fill="none"/>
<path d="M467.25 318.20L467.25 322.40M465.15 320.30L469.35 320.30" stroke="#111" stroke-width="1.1" fill="none"/>
<path d="M476.1 271.50H499.3" stroke="#111" stroke-width="1.7"/>
<path d="M487.70 269.25L489.95 271.50L487.70 273.75L485.45 271.50Z" fill="#111"/>
<text x="501.60" y="275.60" font-size="10.8" text-anchor="start">Qingdao</text>
<path d="M476.1 288.08H499.3" stroke="#111" stroke-width="1.7"/>
<rect x="485.99" y="286.37" width="3.42" height="3.42" fill="#777" stroke="#111" stroke-width="1.1"/>
<text x="501.60" y="292.18" font-size="10.8" text-anchor="start">Dongying</text>
<path d="M476.1 304.66H499.3" stroke="#111" stroke-width="1.7"/>
<path d="M487.70 302.59L489.77 306.32L485.63 306.32Z" fill="#777" stroke="#111" stroke-width="1.0"/>
<text x="501.60" y="308.76" font-size="10.8" text-anchor="start">Yantai</text>
<path d="M476.1 321.24H499.3" stroke="#111" stroke-width="1.7"/>
<path d="M485.81 319.35L489.59 323.13M489.59 319.35L485.81 323.13" stroke="#111" stroke-width="1.2" fill="none"/>
<text x="501.60" y="325.34" font-size="10.8" text-anchor="start">Weifang</text>
<path d="M476.1 337.82H499.3" stroke="#111" stroke-width="1.7"/>
<rect x="485.90" y="336.02" width="3.6" height="3.6" fill="#111"/>
<text x="501.60" y="341.92" font-size="10.8" text-anchor="start">Weihai</text>
<path d="M476.1 354.40H499.3" stroke="#111" stroke-width="1.7"/>
<circle cx="487.70" cy="354.40" r="1.71" fill="#777" stroke="#111" stroke-width="1.1"/>
<text x="501.60" y="358.50" font-size="10.8" text-anchor="start">Rizhao</text>
<path d="M476.1 370.98H499.3" stroke="#111" stroke-width="1.7"/>
<path d="M487.70 369.09L487.70 372.87M485.81 370.98L489.59 370.98" stroke="#111" stroke-width="1.1" fill="none"/>
<text x="501.60" y="375.08" font-size="10.8" text-anchor="start">Binzhou</text>
<text x="284.80" y="327.30" font-size="10.7" text-anchor="middle" transform="rotate(-90 284.80 327.30)">Carrying capacity of economy</text>
<text x="297.30" y="328.60" font-size="10.7" text-anchor="middle" transform="rotate(-90 297.30 328.60)">and technology</text>
<text x="23.4" y="215" font-size="11.5" font-weight="bold" textLength="11.4" lengthAdjust="spacingAndGlyphs">(a)</text>
<text x="44.6" y="215.00" font-size="11.5" textLength="173.5" lengthAdjust="spacingAndGlyphs" style="stroke-width:0.1px">Carrying capacities of water and soil</text>
<text x="44.6" y="229.55" font-size="11.5" textLength="176.9" lengthAdjust="spacingAndGlyphs" style="stroke-width:0.1px">resources of the seven cities and their</text>
<text x="44.6" y="244.10" font-size="11.5" textLength="40.4" lengthAdjust="spacingAndGlyphs" style="stroke-width:0.1px">changes.</text>
<text x="293.4" y="212.2" font-size="11.5" font-weight="bold" textLength="13.0" lengthAdjust="spacingAndGlyphs">(b)</text>
<text x="314.4" y="212.20" font-size="11.5" textLength="216.7" lengthAdjust="spacingAndGlyphs" style="stroke-width:0.1px">Carrying capacities of eco-environment of the</text>
<text x="314.4" y="226.60" font-size="11.5" textLength="143.4" lengthAdjust="spacingAndGlyphs" style="stroke-width:0.1px">seven cities and their changes.</text>
<text x="22.9" y="441.7" font-size="11.5" font-weight="bold" textLength="11.4" lengthAdjust="spacingAndGlyphs">(c)</text>
<text x="44.0" y="441.70" font-size="11.5" textLength="214.0" lengthAdjust="spacingAndGlyphs" style="stroke-width:0.1px">Carrying capacities of social resources of the</text>
<text x="44.0" y="455.50" font-size="11.5" textLength="142.4" lengthAdjust="spacingAndGlyphs" style="stroke-width:0.1px">seven cities and their changes.</text>
<text x="292.9" y="441.9" font-size="11.5" font-weight="bold" textLength="13.2" lengthAdjust="spacingAndGlyphs">(d)</text>
<text x="314.4" y="441.90" font-size="11.5" textLength="231.1" lengthAdjust="spacingAndGlyphs" style="stroke-width:0.1px">Carrying capacities of economy and technology</text>
<text x="314.4" y="455.50" font-size="11.5" textLength="172.4" lengthAdjust="spacingAndGlyphs" style="stroke-width:0.1px">of the seven cities and their changes.</text>
</svg>
</body></html>
